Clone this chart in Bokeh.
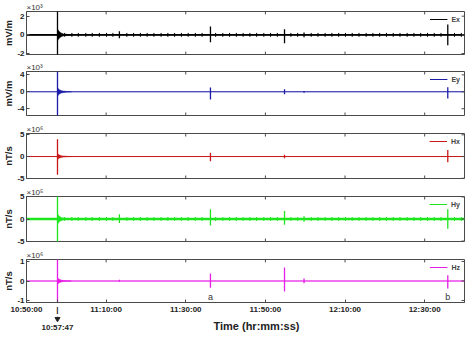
from bokeh.plotting import figure
from bokeh.layouts import column
from bokeh.models import FixedTicker, Legend, LegendItem, Label, Range1d
from bokeh.core.properties import value
from bokeh.embed import file_html
from bokeh.resources import INLINE

# ---------------- data ----------------
T_START = "10:50:00"
T_STOP = "12:40:00"
x_tick_labels = ["10:50:00", "11:10:00", "11:30:00", "11:50:00", "12:10:00", "12:30:00"]
x_label = "Time (hr:mm:ss)"

channels = ["Ex", "Ey", "Hx", "Hy", "Hz"]
units = ["mV/m", "mV/m", "nT/s", "nT/s", "nT/s"]
exponents = ["\u00d710\u00b3", "\u00d710\u00b3", "\u00d710\u2076", "\u00d710\u2075", "\u00d710\u2076"]
colors = ["#000000", "#1c1ca8", "#c81818", "#1ee61e", "#e61ee6"]
y_limits = [(-2100, 2500), (-5600, 4800), (-5050000, 5300000), (-510000, 510000), (-1100000, 1100000)]
y_ticks = [[-2000, 0, 2000], [-4000, 0, 4000], [-5000000, 0, 5000000],
           [-500000, 0, 500000], [-1000000, 0, 1000000]]
y_tick_labels = [["-2", "0", "2"], ["-4", "0", "4"], ["-5", "0", "5"],
                 ["-5", "0", "5"], ["-1", "0", "1"]]

# impulsive events (times) and their positive / negative peaks per channel
event_times = ["10:57:47", "11:13:20", "11:36:12", "11:54:48", "11:59:42", "12:35:48"]
event_hi = {
    "Ex": [3000, 400, 900, 600, 250, 1100],
    "Ey": [6000, 0, 1000, 600, 200, 1100],
    "Hx": [4000000, 0, 900000, 400000, 100000, 1500000],
    "Hy": [600000, 110000, 220000, 180000, 60000, 220000],
    "Hz": [1300000, 60000, 390000, 690000, 130000, 300000],
}
event_lo = {
    "Ex": [-2600, -350, -800, -900, -250, -1100],
    "Ey": [-6000, 0, -1800, -600, -200, -1600],
    "Hx": [-4200000, 0, -1100000, -400000, -100000, -1300000],
    "Hy": [-600000, -90000, -150000, -130000, -60000, -220000],
    "Hz": [-1300000, -40000, -340000, -540000, -120000, -390000],
}
# decaying coda after the main event: minutes after onset, fraction of peak
coda_dt = [0.0, 0.2, 0.5, 0.9, 1.5, 2.4, 3.5]
coda_frac = [1.0, 0.75, 0.5, 0.3, 0.16, 0.07, 0.0]
coda_peak = {"Ex": 650, "Ey": 1000, "Hx": 700000, "Hy": 120000, "Hz": 170000}

# background noise half-width and periodic interference spikes
noise_level = {"Ex": 100, "Ey": 40, "Hx": 40000, "Hy": 26000, "Hz": 8000}
interference_times = ["10:59:36", "11:01:24", "11:03:00", "11:04:54", "11:06:30", "11:08:18",
                      "11:10:06", "11:11:42", "11:15:12", "11:16:54", "11:18:36", "11:20:18",
                      "11:22:00", "11:23:48", "11:25:30", "11:27:12", "11:28:54", "11:30:36",
                      "11:32:24", "11:34:06", "11:37:30", "11:39:18", "11:41:00", "11:42:42",
                      "11:44:24", "11:46:06", "11:47:48", "11:49:36", "11:51:18", "11:53:00",
                      "11:56:24", "11:58:06", "12:01:30", "12:03:12", "12:05:00", "12:06:42",
                      "12:08:24", "12:10:06", "12:11:48", "12:13:30", "12:15:18", "12:17:00",
                      "12:18:42", "12:20:24", "12:22:06", "12:23:48", "12:25:36", "12:27:18",
                      "12:29:00", "12:30:42", "12:32:24", "12:34:06", "12:37:30", "12:39:12"]
interference_amp = {"Ex": 210, "Ey": 0, "Hx": 0, "Hy": 45000, "Hz": 0}

main_event_label = "10:57:47"
event_marks = [("a", "11:36:12"), ("b", "12:35:48")]


def to_min(s):
    h, m, sec = (int(v) for v in s.split(":"))
    return h * 60 + m + sec / 60.0


t0 = to_min(T_START)
x_end = to_min(T_STOP) - t0
x_ticks = [to_min(s) - t0 for s in x_tick_labels]
ev_x = [to_min(s) - t0 for s in event_times]
itf_x = [to_min(s) - t0 for s in interference_times]
mx = to_min(main_event_label) - t0

FONT = "Liberation Sans"
AX = "#4a4a4a"
TXT = "#222222"
W = 466
LEFT, RIGHT = 24, 2
FRAME_W = W - LEFT - RIGHT
TICK = 3  # inward tick length in px

# layout per panel: (border_top, frame, border_bottom)
tops = [10, 13, 14, 14, 14]
frames = [44, 44, 45, 45, 44]
bottoms = [4, 4, 4, 4, 13]

figs = []
for i, ch in enumerate(channels):
    last = i == len(channels) - 1
    h = tops[i] + frames[i] + bottoms[i]
    ylo, yhi = y_limits[i]
    per_px = (yhi - ylo) / frames[i]
    x_per_px = x_end / FRAME_W
    p = figure(width=W, height=h, x_range=Range1d(0, x_end),
               y_range=Range1d(ylo, yhi), output_backend="svg",
               toolbar_location=None, min_border_left=LEFT, min_border_right=RIGHT,
               min_border_top=tops[i], min_border_bottom=bottoms[i],
               title=exponents[i])
    p.title.text_font = FONT
    p.title.text_font_size = "8px"
    p.title.text_font_style = "normal"
    p.title.text_color = "#333333"
    p.title.align = "left"
    p.title.standoff = 0
    p.grid.visible = False
    p.outline_line_color = AX
    p.background_fill_color = "white"

    col = colors[i]
    n = noise_level[ch]
    # noise band + baseline
    p.varea(x=[0, x_end], y1=[-n, -n], y2=[n, n], fill_color=col, fill_alpha=1.0)
    p.line(x=[0, x_end], y=[0, 0], line_color=col, line_width=1)
    # interference spikes
    a = interference_amp[ch]
    if a > 0:
        p.segment(x0=itf_x, y0=[-a] * len(itf_x), x1=itf_x, y1=[a] * len(itf_x),
                  line_color=col, line_width=1)
    # coda of the main event
    cp = coda_peak[ch]
    cx = [ev_x[0] + d for d in coda_dt]
    cy = [cp * f for f in coda_frac]
    p.patch(x=cx + cx[::-1], y=cy + [-v for v in cy[::-1]], fill_color=col, line_color=col,
            line_width=0.5)
    # impulsive events
    p.segment(x0=ev_x, y0=event_lo[ch], x1=ev_x, y1=event_hi[ch], line_color=col,
              line_width=1.3)

    # mirrored inward ticks on the top / right (and bottom for upper panels)
    nx = len(x_ticks)
    p.segment(x0=x_ticks, y0=[yhi] * nx, x1=x_ticks, y1=[yhi - TICK * per_px] * nx,
              line_color=AX, line_width=1)
    ny = len(y_ticks[i])
    p.segment(x0=[x_end] * ny, y0=y_ticks[i], x1=[x_end - TICK * x_per_px] * ny,
              y1=y_ticks[i], line_color=AX, line_width=1)
    if not last:
        p.segment(x0=x_ticks, y0=[ylo] * nx, x1=x_ticks, y1=[ylo + TICK * per_px] * nx,
                  line_color=AX, line_width=1)

    # legend (renderer kept outside the visible x range)
    lr = p.line(x=[-20, -19], y=[0, 0], line_color=col, line_width=1)
    leg = Legend(items=[LegendItem(label=ch, renderers=[lr])], location="top_right",
                 label_text_font=FONT, label_text_font_size="7px",
                 label_text_font_style="bold", glyph_width=18, glyph_height=8,
                 label_height=8, label_width=8, label_standoff=4, padding=1, margin=3,
                 spacing=0, border_line_alpha=0, background_fill_alpha=1.0)
    p.add_layout(leg)

    # left axis
    p.yaxis.ticker = FixedTicker(ticks=y_ticks[i])
    p.yaxis.major_label_overrides = {t: lab for t, lab in zip(y_ticks[i], y_tick_labels[i])}
    p.yaxis.axis_label = units[i]
    p.yaxis.axis_label_text_font = FONT
    p.yaxis.axis_label_text_font_size = "9.5px"
    p.yaxis.axis_label_text_font_style = "bold"
    p.yaxis.axis_label_standoff = 0
    p.yaxis.major_label_text_font = FONT
    p.yaxis.major_label_text_font_size = "8px"
    p.yaxis.major_label_text_font_style = "bold"
    p.yaxis.major_label_standoff = 2

    if last:
        # bottom axis; the main-event tick carries the arrow shaft
        p.xaxis.ticker = FixedTicker(ticks=x_ticks + [mx])
        overrides = {t: lab for t, lab in zip(x_ticks, x_tick_labels)}
        overrides[mx] = "|"
        p.xaxis.major_label_overrides = overrides
        p.xaxis.major_label_text_font = FONT
        p.xaxis.major_label_text_font_size = "8px"
        p.xaxis.major_label_text_font_style = "bold"
        p.xaxis.major_label_standoff = 2
        for mark, ts in event_marks:
            p.add_layout(Label(x=to_min(ts) - t0, y=ylo + 1 * per_px, text=mark,
                               text_font=FONT, text_font_size="9px", text_align="center",
                               text_baseline="bottom", text_color="#333333"))
    else:
        p.xaxis.visible = False

    for ax in p.axis:
        ax.axis_line_color = AX
        ax.major_tick_line_color = AX
        ax.major_tick_in = TICK
        ax.major_tick_out = 0
        ax.minor_tick_line_color = None
        ax.axis_label_text_color = TXT
        ax.major_label_text_color = TXT
    figs.append(p)

# footer: arrow head, main-event time and x-axis title, on the same time scale
foot = figure(width=W, height=17, x_range=figs[-1].x_range, y_range=Range1d(0, 1),
              output_backend="svg", toolbar_location=None, min_border_left=LEFT,
              min_border_right=RIGHT, min_border_top=0, min_border_bottom=0,
              x_axis_type=None, y_axis_type=None)
foot.outline_line_color = None
foot.grid.visible = False
foot.segment(x0=[mx], y0=[1.0], x1=[mx], y1=[0.85], line_color=TXT, line_width=1)
foot.scatter(x=[mx], y=[0.86], marker="inverted_triangle", size=5, fill_color=TXT,
             line_color=TXT)
foot.text(x=[mx], y=[0.38], text=[main_event_label], text_font=value(FONT),
          text_font_size=value("8px"), text_font_style="bold", text_align="center",
          text_baseline="middle", text_color=TXT)
foot.text(x=[x_end * 0.525], y=[0.45], text=[x_label], text_font=value(FONT),
          text_font_size=value("11px"), text_font_style="bold", text_align="center",
          text_baseline="middle", text_color=TXT)
figs.append(foot)

layout = column(*figs, spacing=0)
open("out.html", "w").write(file_html(layout, INLINE))
